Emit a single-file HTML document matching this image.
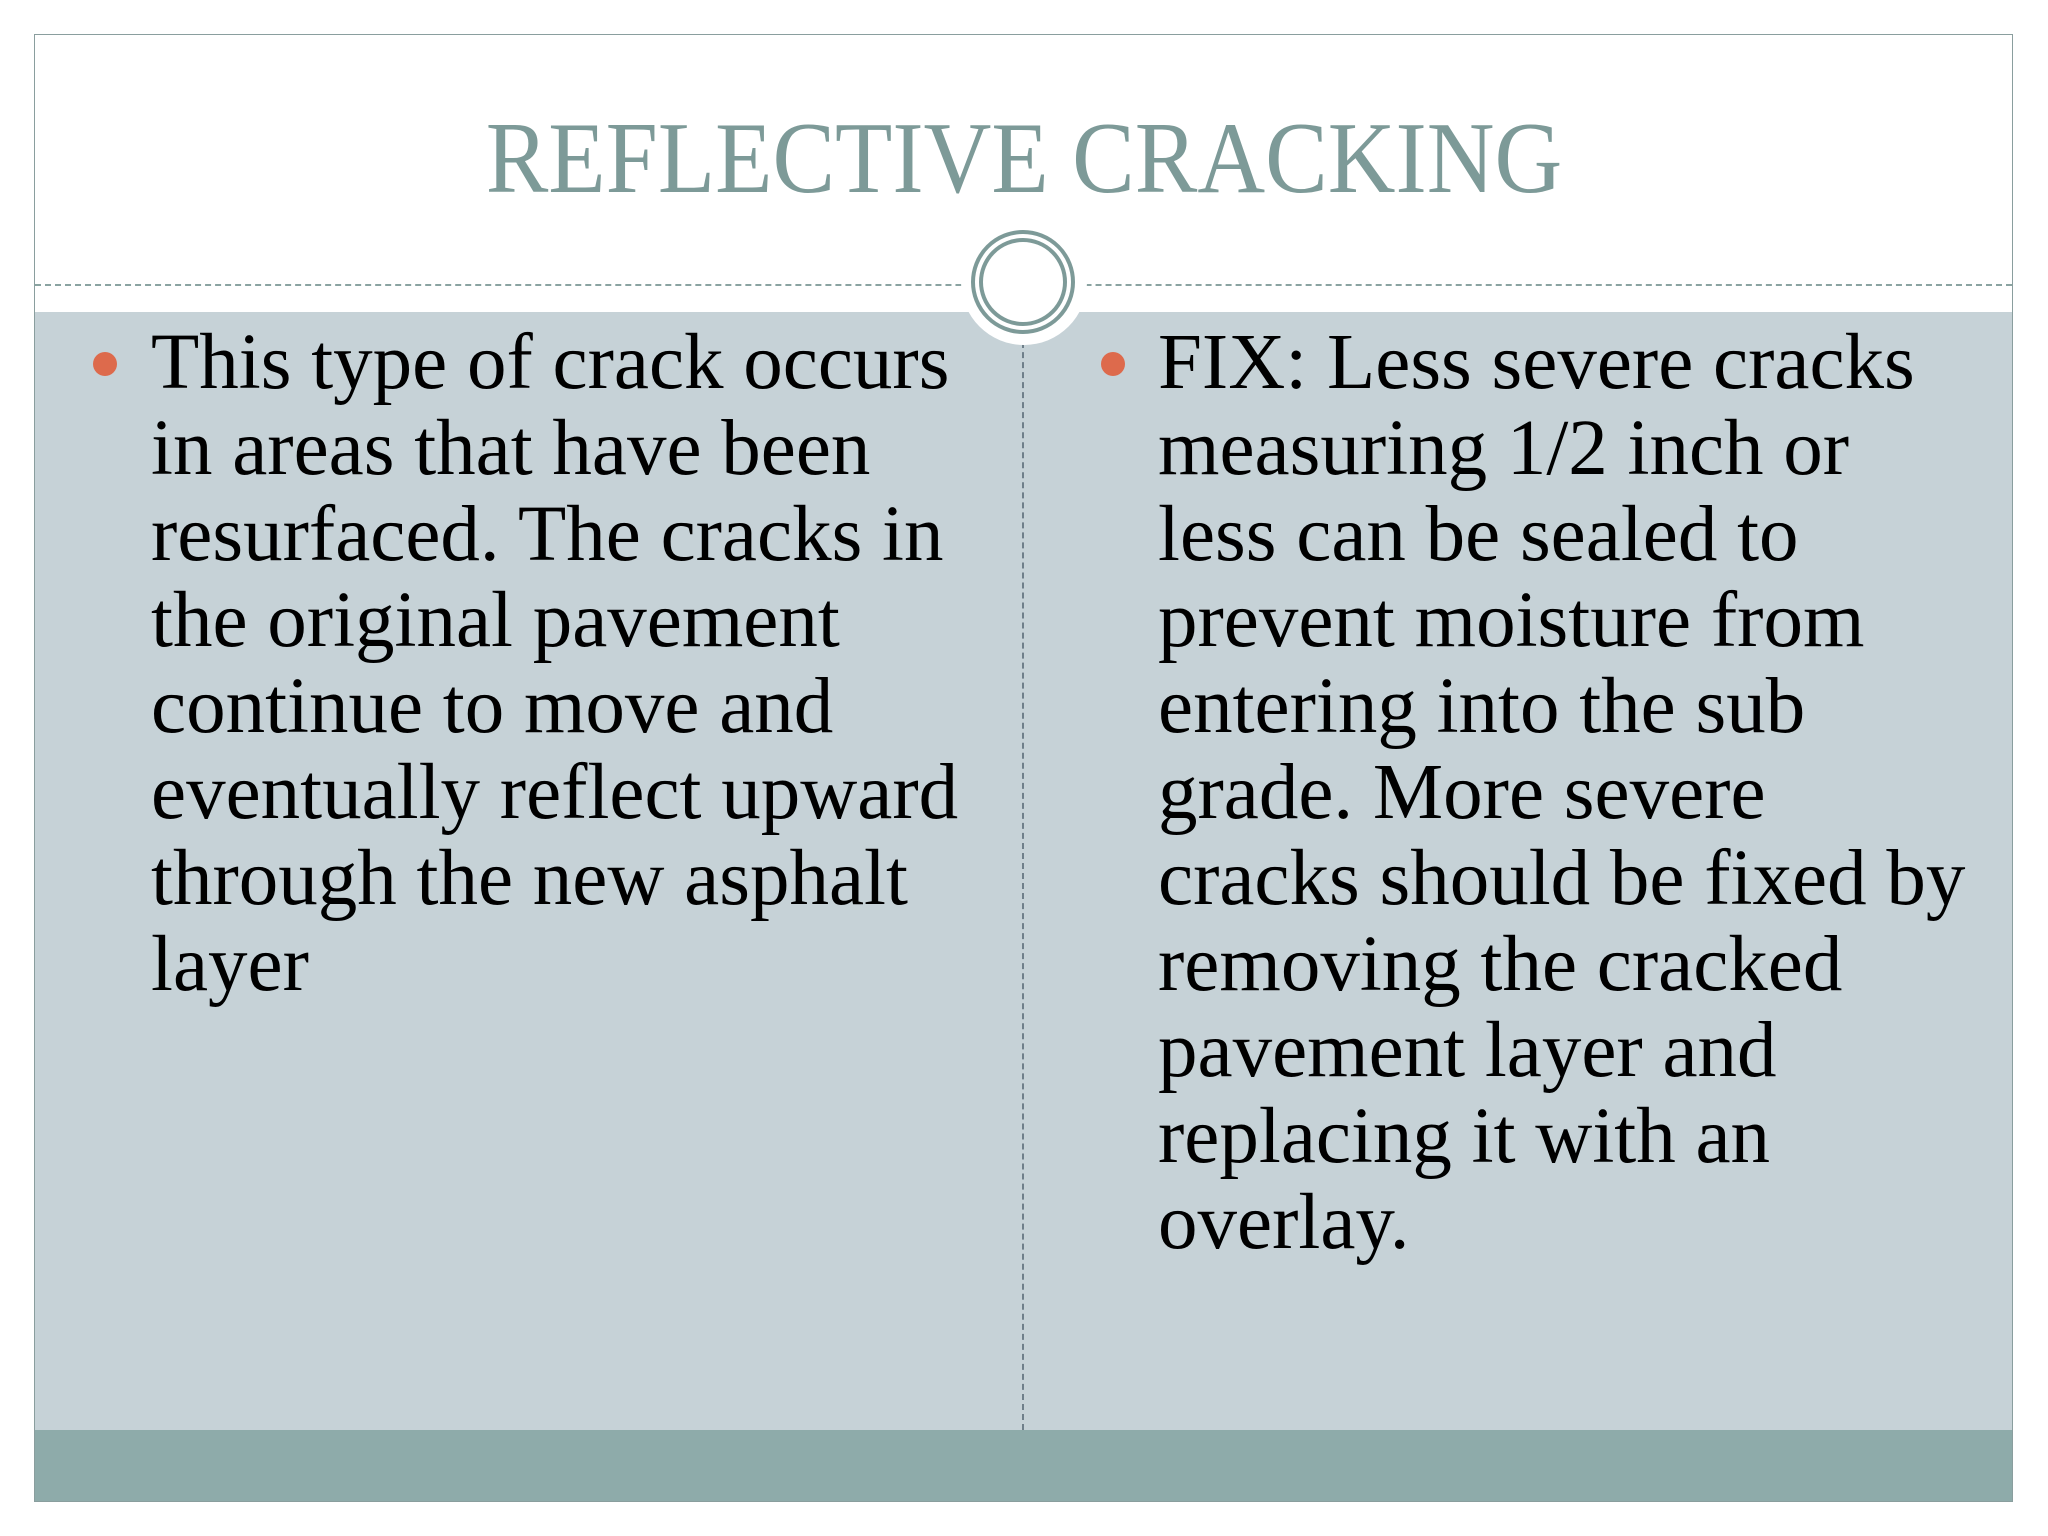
<!DOCTYPE html>
<html><head><meta charset="utf-8"><style>
html,body{margin:0;padding:0;width:2048px;height:1536px;background:#fff;overflow:hidden;}
.abs{position:absolute;}
.t{position:absolute;font-family:"Liberation Serif",serif;font-size:79px;color:#000;white-space:nowrap;letter-spacing:0px;line-height:86px;}
</style></head><body>
<div class="abs" style="left:34px;top:34px;width:1979px;height:1468px;border:1.5px solid #8a9e9e;box-sizing:border-box;background:#fff;"></div>
<div class="abs" style="left:35px;top:312px;width:1977px;height:1118px;background:#c6d2d7;"></div>
<div class="abs" style="left:35px;top:1430px;width:1977px;height:71px;background:#8eabaa;"></div>
<div class="abs" style="left:35px;top:284px;width:1977px;border-top:2px dashed #8aa3a1;"></div>
<div class="abs" style="left:1022px;top:312px;height:1118px;border-left:2px dashed #6f7f8a;"></div>
<div class="abs" style="left:961px;top:219px;width:126px;height:126px;border-radius:50%;background:#fff;"></div>
<div class="abs" style="left:971px;top:230px;width:104px;height:104px;border-radius:50%;border:4px solid #7d9a98;box-sizing:border-box;"></div>
<div class="abs" style="left:979px;top:238px;width:88px;height:88px;border-radius:50%;border:4px solid #7d9a98;box-sizing:border-box;"></div>
<div class="abs" style="left:0;top:104px;width:2048px;text-align:center;font-family:'Liberation Serif',serif;font-size:102px;line-height:110px;color:#7d9a98;transform:scaleX(0.92);">REFLECTIVE CRACKING</div>
<div class="abs" style="left:93px;top:352px;width:24px;height:24px;border-radius:50%;background:#dd6a4c;"></div>
<div class="abs" style="left:1101px;top:352px;width:24px;height:24px;border-radius:50%;background:#dd6a4c;"></div>
<div class="t" style="left:151px;top:320px;">This type of crack occurs<br>in areas that have been<br>resurfaced. The cracks in<br>the original pavement<br>continue to move and<br>eventually reflect upward<br>through the new asphalt<br>layer</div>
<div class="t" style="left:1158px;top:320px;">FIX: Less severe cracks<br>measuring 1/2 inch or<br>less can be sealed to<br>prevent moisture from<br>entering into the sub<br>grade. More severe<br>cracks should be fixed by<br>removing the cracked<br>pavement layer and<br>replacing it with an<br>overlay.</div>
</body></html>
